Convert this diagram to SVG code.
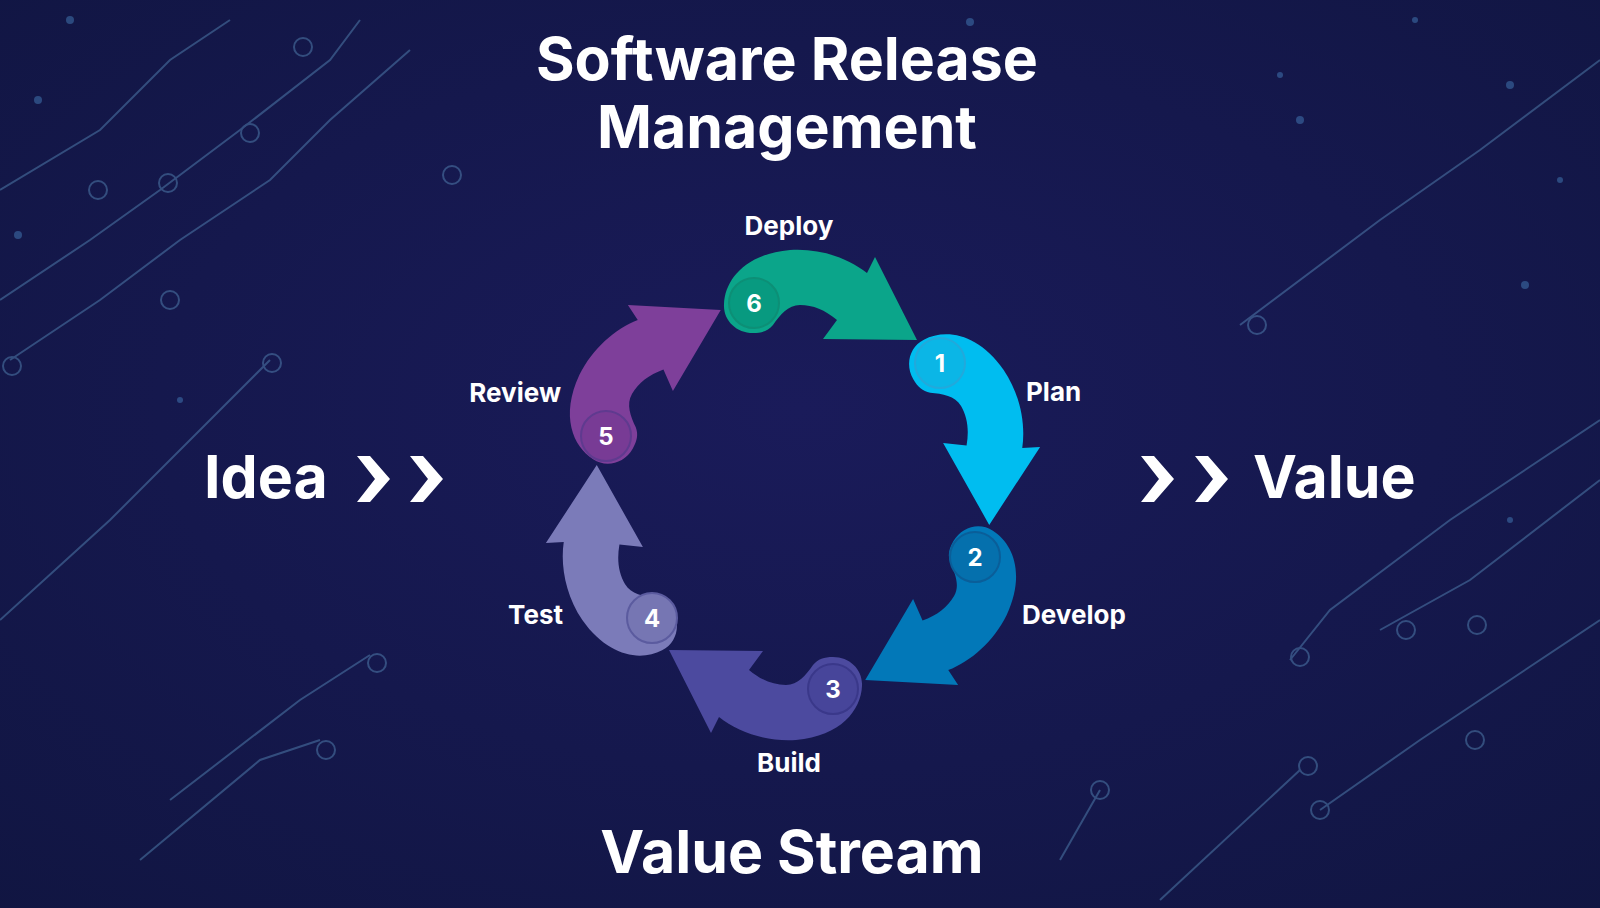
<svg xmlns="http://www.w3.org/2000/svg" width="1600" height="908" viewBox="0 0 1600 908">
<defs>
<radialGradient id="bg" cx="0.5" cy="0.45" r="0.8">
<stop offset="0" stop-color="#1a1b5a"/><stop offset="1" stop-color="#101540"/>
</radialGradient>
<path id="arr" d="M753,333 C736,333 723,320 724,304 C725,280 745,254 790,250 C820,248 848,258 867,273 L875,257 L917,340 L823,339 L837,320 C825,310 813,305 800,305 C788,305 780,315 773,325 C768,331 762,333 753,333 Z"/>
<style>
.t{font-family:"Inter","Liberation Sans",sans-serif;font-weight:700;fill:#fff}
.lab{font-size:26px}
.num{font-size:24px;text-anchor:middle}
.big{font-size:59px}
.circ{fill:none;stroke:#6fb3e0;stroke-width:2;opacity:0.35}
.dot{fill:#5aa8e8;opacity:0.35}
</style>
</defs>
<rect width="1600" height="908" fill="url(#bg)"/>
<g class="circ">
<path d="M0,300 L90,240 L160,190 L240,130 L330,60 L360,20"/>
<path d="M10,360 L100,300 L180,240 L270,180 L330,120 L410,50"/>
<path d="M0,190 L100,130 L170,60 L230,20"/>
<path d="M0,620 L110,520 L220,410 L270,360"/>
<path d="M140,860 L260,760 L320,740"/>
<path d="M170,800 L300,700 L370,655"/>
<path d="M1240,325 L1380,220 L1480,150 L1600,60"/>
<path d="M1290,660 L1330,610 L1450,520 L1600,420"/>
<path d="M1380,630 L1470,580 L1600,480"/>
<path d="M1320,810 L1420,740 L1600,620"/>
<path d="M1060,860 L1100,790"/>
<path d="M1160,900 L1300,770"/>
<circle cx="98" cy="190" r="9"/><circle cx="168" cy="183" r="9"/><circle cx="170" cy="300" r="9"/>
<circle cx="12" cy="366" r="9"/><circle cx="272" cy="363" r="9"/><circle cx="250" cy="133" r="9"/>
<circle cx="303" cy="47" r="9"/><circle cx="452" cy="175" r="9"/><circle cx="377" cy="663" r="9"/>
<circle cx="326" cy="750" r="9"/><circle cx="1257" cy="325" r="9"/><circle cx="1300" cy="657" r="9"/>
<circle cx="1406" cy="630" r="9"/><circle cx="1477" cy="625" r="9"/><circle cx="1320" cy="810" r="9"/>
<circle cx="1308" cy="766" r="9"/><circle cx="1100" cy="790" r="9"/><circle cx="1475" cy="740" r="9"/>
</g>
<g class="dot">
<circle cx="70" cy="20" r="4"/><circle cx="38" cy="100" r="4"/><circle cx="18" cy="235" r="4"/><circle cx="1300" cy="120" r="4"/>
<circle cx="1510" cy="85" r="4"/><circle cx="1280" cy="75" r="3"/><circle cx="970" cy="22" r="4"/><circle cx="1525" cy="285" r="4"/>
<circle cx="1560" cy="180" r="3"/><circle cx="1415" cy="20" r="3"/><circle cx="180" cy="400" r="3"/><circle cx="1510" cy="520" r="3"/>
</g>
<g id="title"><text class="t big" x="787" y="80" text-anchor="middle">Software Release</text>
<text class="t big" x="787" y="148" text-anchor="middle">Management</text></g>
<g id="arrow6"><use href="#arr" fill="#0ba58a"/><circle cx="754" cy="303" r="25" fill="#089a80" stroke="#0d8f76" stroke-width="2"/><text class="t num" x="754" y="312">6</text></g>
<g id="arrow1"><use href="#arr" fill="#00bdf0" transform="rotate(60 793 495)"/><circle cx="940" cy="363" r="25" fill="#0bb6e6" stroke="#22a9db" stroke-width="2"/><text class="t num" x="940" y="372">1</text></g>
<g id="arrow2"><use href="#arr" fill="#0278b8" transform="rotate(120 793 495)"/><circle cx="975" cy="557" r="25" fill="#0570ad" stroke="#0a5e99" stroke-width="2"/><text class="t num" x="975" y="566">2</text></g>
<g id="arrow3"><use href="#arr" fill="#4c4a9f" transform="rotate(180 793 495)"/><circle cx="833" cy="689" r="25" fill="#47459a" stroke="#3a388a" stroke-width="2"/><text class="t num" x="833" y="698">3</text></g>
<g id="arrow4"><use href="#arr" fill="#7b7bb9" transform="rotate(240 793 495)"/><circle cx="652" cy="618" r="25" fill="#7676b3" stroke="#5b5b9f" stroke-width="2"/><text class="t num" x="652" y="627">4</text></g>
<g id="arrow5"><use href="#arr" fill="#7e3f9a" transform="rotate(300 793 495)"/><circle cx="606" cy="436" r="25" fill="#783b95" stroke="#5f3a8f" stroke-width="2"/><text class="t num" x="606" y="445">5</text></g>
<g id="labels">
<text class="t lab" x="789" y="235" text-anchor="middle">Deploy</text>
<text class="t lab" x="1026" y="401">Plan</text>
<text class="t lab" x="1022" y="624">Develop</text>
<text class="t lab" x="789" y="772" text-anchor="middle">Build</text>
<text class="t lab" x="563" y="624" text-anchor="end">Test</text>
<text class="t lab" x="561" y="402" text-anchor="end">Review</text>
</g>
<g id="idea"><text class="t big" x="204" y="498">Idea</text>
<path d="M357,456 L370,456 L390,479 L370,502 L357,502 L375,479 Z M410,456 L423,456 L443,479 L423,502 L410,502 L428,479 Z" fill="#fff"/></g>
<g id="value"><text class="t big" x="1253" y="498">Value</text>
<path d="M1141,456 L1154,456 L1174,479 L1154,502 L1141,502 L1159,479 Z M1195,456 L1208,456 L1228,479 L1208,502 L1195,502 L1213,479 Z" fill="#fff"/></g>
<g id="stream"><text class="t big" x="792" y="873" text-anchor="middle">Value Stream</text></g>
</svg>
